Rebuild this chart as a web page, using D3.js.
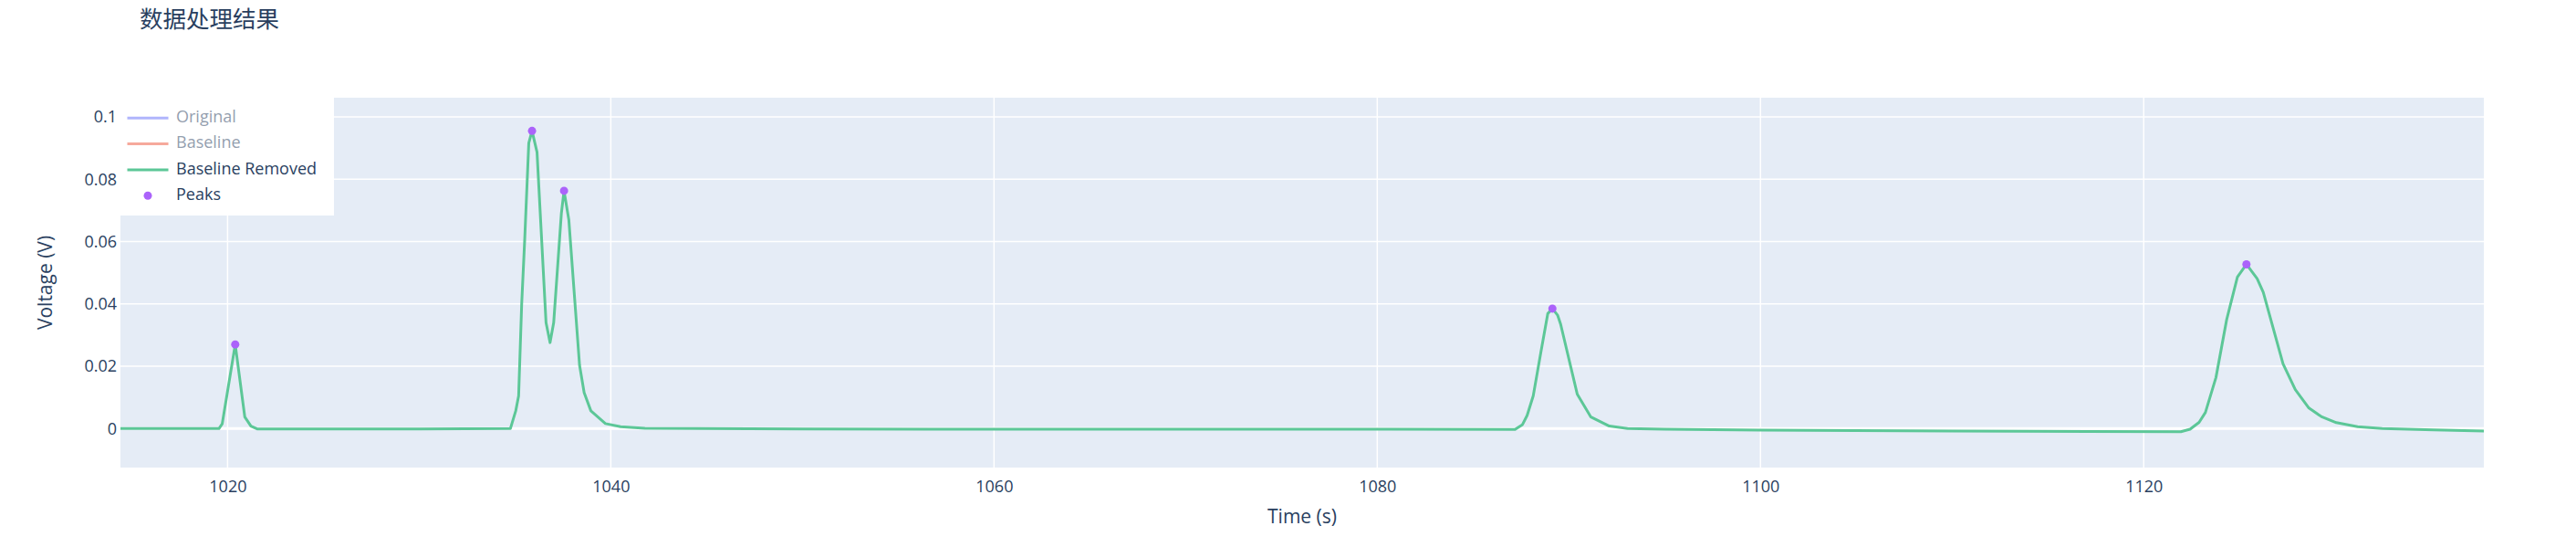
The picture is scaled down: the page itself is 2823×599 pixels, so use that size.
<!DOCTYPE html>
<html>
<head>
<meta charset="utf-8">
<script src="https://cdn.jsdelivr.net/npm/d3@7"></script>
<style>
  body { margin: 0; background: #fff; }
  svg { display: block; font-family: "Open Sans", verdana, arial, "Noto Sans CJK SC", sans-serif; }
</style>
</head>
<body>
<svg id="chart"></svg>
<script>
// values
const timeValues = [1014.4, 1017, 1019.55, 1019.72, 1020.40, 1020.90, 1021.22, 1021.54, 1024, 1030, 1034.76,
    1035.04, 1035.19, 1035.35, 1035.51, 1035.72, 1035.89, 1036.15, 1036.62, 1036.83, 1037.02, 1037.42, 1037.56,
    1037.81, 1038.37, 1038.61, 1038.96, 1039.72, 1040.51, 1041.78, 1050, 1060, 1070, 1080, 1087.19,
    1087.58, 1087.82, 1088.14, 1088.53, 1088.90, 1089.14, 1089.41, 1089.57, 1090.44, 1091.15, 1092.11, 1093.06,
    1095, 1100, 1110, 1121.94, 1122.42, 1122.89, 1123.22, 1123.77, 1124.33, 1124.89, 1125.36, 1125.92,
    1126.24, 1127.27, 1127.91, 1128.62, 1129.26, 1130.05, 1131.16, 1132.44, 1135.14, 1137.77];
const removedValues = [0, 0, 0, 0.0015, 0.0270, 0.0037, 0.0008, -0.0001, -0.0001, -0.0001, 0,
    0.0057, 0.0105, 0.0400, 0.0610, 0.0916, 0.0955, 0.0887, 0.0340, 0.0276, 0.0340, 0.0690, 0.0763,
    0.0670, 0.0203, 0.0115, 0.0057, 0.0016, 0.0006, 0.0001, -0.0001, -0.0002, -0.0002, -0.0002, -0.0003,
    0.0013, 0.0042, 0.0105, 0.0242, 0.0369, 0.0385, 0.0364, 0.0335, 0.0110, 0.0037, 0.0008, 0.0000,
    -0.0002, -0.0005, -0.0008, -0.0010, -0.0002, 0.0020, 0.0052, 0.0164, 0.0350, 0.0486, 0.0527, 0.0481,
    0.0437, 0.0208, 0.0125, 0.0066, 0.0039, 0.0019, 0.0006, 0.0000, -0.0004, -0.0008];
const peakTimes = [1020.40, 1035.89, 1037.56, 1089.14, 1125.36];
const peakValues = [0.0270, 0.0955, 0.0763, 0.0385, 0.0527];

const xTicks = [1020, 1040, 1060, 1080, 1100, 1120];
const yTicks = [0, 0.02, 0.04, 0.06, 0.08, 0.1];
const yTickLabels = ["0", "0.02", "0.04", "0.06", "0.08", "0.1"];

const legendNames = ["Original", "Baseline", "Baseline Removed", "Peaks"];
const legendColors = ["#636efa", "#ef553b", "#5cc797", "#ab63fa"];
const legendHidden = [true, true, false, false];

const width = 2823, height = 599;
const plot = {left: 132, right: 2722, top: 107, bottom: 512};
const textColor = "#2a3f5f";

const svg = d3.select("#chart").attr("width", width).attr("height", height);

const xScale = d3.scaleLinear().domain([1014.41, 1137.75]).range([plot.left, plot.right]);
const yScale = d3.scaleLinear().domain([-0.0125, 0.10615]).range([plot.bottom, plot.top]);

// plot background
svg.append("rect")
    .attr("x", plot.left).attr("y", plot.top)
    .attr("width", plot.right - plot.left).attr("height", plot.bottom - plot.top)
    .attr("fill", "#e5ecf6");

// grid
svg.append("g").selectAll("line").data(xTicks).enter().append("line")
    .attr("x1", d => xScale(d)).attr("x2", d => xScale(d))
    .attr("y1", plot.top).attr("y2", plot.bottom)
    .attr("stroke", "#fff").attr("stroke-width", 1.5);
svg.append("g").selectAll("line").data(yTicks).enter().append("line")
    .attr("x1", plot.left).attr("x2", plot.right)
    .attr("y1", d => yScale(d)).attr("y2", d => yScale(d))
    .attr("stroke", "#fff").attr("stroke-width", d => d === 0 ? 3 : 1.5);

// axes (labels only, domain and ticks hidden)
const gx = svg.append("g").attr("transform", `translate(0,${plot.bottom})`)
    .call(d3.axisBottom(xScale).tickValues(xTicks).tickSize(0).tickPadding(14).tickFormat(d3.format("d")))
    .attr("font-family", null).attr("font-size", null);
gx.select(".domain").remove();
gx.selectAll("text").attr("font-size", 18).attr("fill", textColor)
    .attr("dy", "0.71em");

const gy = svg.append("g").attr("transform", `translate(${plot.left},0)`)
    .call(d3.axisLeft(yScale).tickValues(yTicks).tickSize(0).tickPadding(4).tickFormat((d, i) => yTickLabels[i]))
    .attr("font-family", null).attr("font-size", null);
gy.select(".domain").remove();
gy.selectAll("text").attr("font-size", 18).attr("fill", textColor);

// axis titles
svg.append("text").attr("x", (plot.left + plot.right) / 2).attr("y", 567)
    .attr("text-anchor", "middle").attr("dominant-baseline", "middle")
    .attr("font-size", 21).attr("fill", textColor).text("Time (s)");
svg.append("text").attr("transform", `translate(51,${(plot.top + plot.bottom) / 2}) rotate(-90)`)
    .attr("text-anchor", "middle").attr("dominant-baseline", "middle")
    .attr("font-size", 21).attr("fill", textColor).text("Voltage (V)");

// title
svg.append("text").attr("x", 153).attr("y", 23)
    .attr("dominant-baseline", "middle")
    .attr("font-size", 25.5).attr("fill", textColor)
    .attr("font-family", "'Open Sans', 'Noto Sans CJK SC', sans-serif")
    .text("数据处理结果");

// data
const clip = svg.append("clipPath").attr("id", "clip").append("rect")
    .attr("x", plot.left).attr("y", plot.top)
    .attr("width", plot.right - plot.left).attr("height", plot.bottom - plot.top);

const line = d3.line().x(d => xScale(d[0])).y(d => yScale(d[1]));
svg.append("path")
    .datum(d3.zip(timeValues, removedValues))
    .attr("clip-path", "url(#clip)")
    .attr("d", line)
    .attr("fill", "none").attr("stroke", legendColors[2]).attr("stroke-width", 3)
    .attr("stroke-linejoin", "round");

svg.append("g").selectAll("circle").data(d3.zip(peakTimes, peakValues)).enter().append("circle")
    .attr("cx", d => xScale(d[0])).attr("cy", d => yScale(d[1])).attr("r", 4.5)
    .attr("fill", legendColors[3]);

// legend
const legend = svg.append("g").attr("transform", `translate(${plot.left},${plot.top})`);
legend.append("rect").attr("width", 234).attr("height", 129).attr("fill", "#fff");
const rowY = i => 22.3 + i * 28.3;
legendNames.forEach((name, i) => {
    const item = legend.append("g").attr("opacity", legendHidden[i] ? 0.5 : 1);
    if (name === "Peaks") {
        item.append("circle").attr("cx", 30).attr("cy", rowY(i)).attr("r", 4.5).attr("fill", legendColors[i]);
    } else {
        item.append("line").attr("x1", 7.5).attr("x2", 52.5).attr("y1", rowY(i)).attr("y2", rowY(i))
            .attr("stroke", legendColors[i]).attr("stroke-width", 3);
    }
    item.append("text").attr("x", 61).attr("y", rowY(i)).attr("dominant-baseline", "middle")
        .attr("font-size", 18).attr("fill", textColor).text(name);
});
</script>
</body>
</html>
